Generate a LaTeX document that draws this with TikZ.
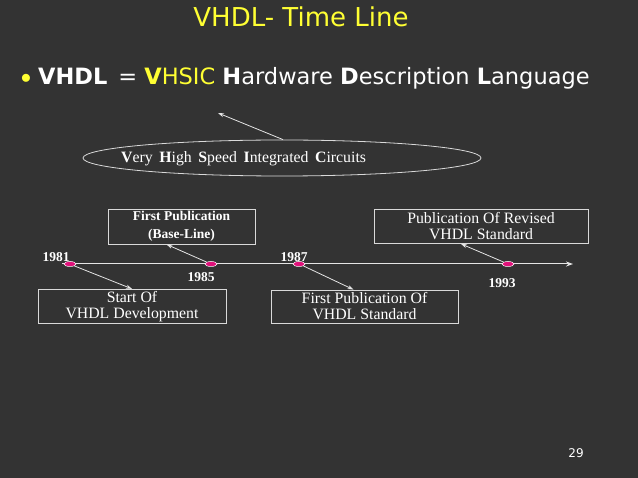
\documentclass[tikz,border=0pt]{standalone}
\usepackage{fontspec}
\setmainfont{Liberation Serif}
\newfontfamily\sansf{DejaVu Sans}
\usetikzlibrary{arrows.meta,shapes.geometric}
\definecolor{bg}{HTML}{333333}
\definecolor{yel}{HTML}{FFFF33}
\definecolor{mag}{HTML}{E0107A}
\tikzset{
  box/.style={draw=white!85!black,line width=0.8pt,text=white,align=center,minimum height=35pt,inner sep=2pt},
  conn/.style={draw=white!90!black,line width=0.8pt,-{Stealth[length=6pt,width=4pt]}},
  dot/.style={ellipse,draw=white,fill=mag,line width=0.5pt,minimum width=12pt,minimum height=5pt,inner sep=0pt},
  yr/.style={text=white,font=\bfseries\fontsize{13.5}{15}\selectfont}
}
\begin{document}
\begin{tikzpicture}[x=1pt,y=-1pt]
\fill[bg] (0,0) rectangle (638,478);
\useasboundingbox (0,0) rectangle (638,478);
\node[text=yel,font=\sansf\fontsize{26}{30}\selectfont] (title) at (301,17) {VHDL- Time Line};
\node[text=yel,font=\fontsize{22}{22}\selectfont] (bul) at (26,79) {$\bullet$};
\node[anchor=west,text=white,font=\sansf\fontsize{22.5}{26}\selectfont,inner sep=0pt] (def) at (38,78)
 {\textbf{VHDL} \,= \textcolor{yel}{\textbf{V}HSIC} \textbf{H}ardware \textbf{D}escription \textbf{L}anguage};
\coordinate (vh) at (218,113);
\node[ellipse,draw=white!85!black,line width=0.8pt,minimum width=398pt,minimum height=36pt,inner sep=0pt] (ell) at (282,158) {};
\node[anchor=west,text=white,font=\fontsize{15.8}{18}\selectfont,inner sep=0pt] (elltxt) at (121,159) {\textbf{V}ery \,\textbf{H}igh \,\textbf{S}peed \,\textbf{I}ntegrated \,\textbf{C}ircuits};
\draw[conn] (ell.north) ++(1,0) coordinate (es) -- (vh);
% timeline
\coordinate (t0) at (62,264);
\coordinate (t1) at (573,264);
\draw[draw=white!90!black,line width=1pt,-{Stealth[length=7pt,width=5pt]}] (t0) -- (t1);
\node[dot] (d81) at (70,264) {};
\node[dot] (d85) at (211,264) {};
\node[dot] (d87) at (299,264) {};
\node[dot] (d93) at (508,264) {};
\node[yr] (y81) at (56,257) {1981};
\node[yr] (y85) at (201,277) {1985};
\node[yr] (y87) at (294,257) {1987};
\node[yr] (y93) at (502,283) {1993};
\node[box,minimum width=147pt,font=\bfseries\fontsize{13.5}{18}\selectfont] (b85) at (181.5,226.5) {First Publication\\(Base-Line)};
\node[box,minimum width=214pt,minimum height=34pt,font=\fontsize{15.8}{16}\selectfont] (b93) at (481,226.5) {Publication Of Revised\\VHDL Standard};
\node[box,minimum width=188pt,minimum height=33pt,font=\fontsize{15.8}{16}\selectfont] (b81) at (132,306.5) {Start Of\\VHDL Development};
\node[box,minimum width=187pt,minimum height=33pt,font=\fontsize{15.8}{16}\selectfont] (b87) at (364.5,306.5) {First Publication Of\\VHDL Standard};
\draw[conn] (d81.south east) -- (b81.north);
\draw[conn] (d85.north west) -- ([xshift=-15pt]b85.south);
\draw[conn] (d87.south east) -- ([xshift=-11pt]b87.north);
\draw[conn] (d93.north west) -- ([xshift=-20pt]b93.south);
\node[text=white,font=\sansf\fontsize{12}{13}\selectfont] (pg) at (576,453) {29};
\end{tikzpicture}
\end{document}
